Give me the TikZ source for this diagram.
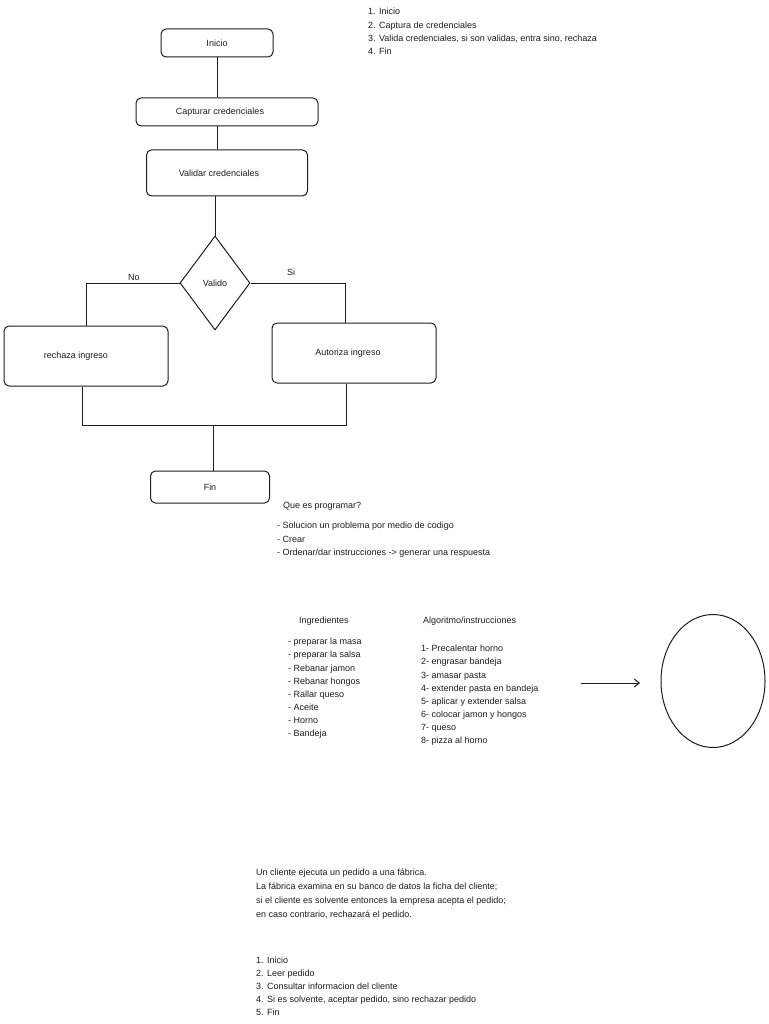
\documentclass[tikz,border=0pt]{standalone}
\usepackage{fontspec}
\setmainfont{Liberation Sans}
\usetikzlibrary{shapes.geometric,arrows.meta}
\definecolor{ink}{HTML}{1E1E1E}
\begin{document}
\begin{tikzpicture}[x=1pt,y=-1pt,
  every node/.style={text=ink},
  hand/.style={font=\fontsize{9}{13.3}\selectfont},
  box/.style={draw=ink,line width=1pt,rounded corners=5pt,hand},
  wire/.style={draw=ink,line width=1pt},
  txt/.style={hand,anchor=north west,inner sep=0pt,align=left},
]
\useasboundingbox[fill=white] (0,0) rectangle (768,1024);

% flowchart
\node[box,minimum width=112,minimum height=28] (inicio) at (217,43) {Inicio};
\node[box,minimum width=182,minimum height=28] (capt) at (227,112) {Capturar credenciales\hspace*{14pt}};
\node[box,minimum width=161,minimum height=46] (valid) at (227,173) {\raisebox{-1pt}{Validar credenciales}\hspace*{16pt}};
\node[diamond,draw=ink,line width=1pt,hand,minimum width=70,minimum height=94,inner sep=0pt] (dia) at (215,283) {Valido};
\node[box,minimum width=164,minimum height=60] (rech) at (86,356) {\raisebox{-6pt}{rechaza ingreso}\hspace*{20pt}};
\node[box,minimum width=164,minimum height=60] (aut) at (354,353) {\raisebox{-5pt}{Autoriza ingreso}\hspace*{12pt}};
\node[box,minimum width=119,minimum height=32] (fin) at (210,487) {Fin};
\coordinate (join) at (213,425);

\draw[wire] (inicio.south) -- (inicio.south |- capt.north);
\draw[wire] ([xshift=-10pt]capt.south) -- ([xshift=-10pt]capt.south |- valid.north);
\draw[wire] (dia.north |- valid.south) -- (dia.north);
\draw[wire] (dia.west) -| (rech.north);
\draw[wire] (dia.east) -| ([xshift=-9pt]aut.north);
\draw[wire] ([xshift=-4pt]rech.south) -- ([xshift=-4pt]rech.south |- join) -- ([xshift=-8pt]aut.south |- join) -- ([xshift=-8pt]aut.south);
\draw[wire] (join) -- (join |- fin.north);

\node[hand] (no) at (134,277) {No};
\node[hand] (si) at (291,272) {Si};

% top-right list
\node[txt] (steps) at (368,8) {1. Inicio\\2. Captura de credenciales\\3. Valida credenciales, si son validas, entra sino, rechaza\\4. Fin};

% que es programar
\node[txt] (que) at (283,502) {Que es programar?};
\node[txt] (def) at (277,522) {- Solucion un problema por medio de codigo\\- Crear\\- Ordenar/dar instrucciones -> generar una respuesta};

% pizza
\node[txt] (ingt) at (299,617) {Ingredientes};
\node[txt,font=\fontsize{9}{13.15}\selectfont] (ing) at (288,638) {- preparar la masa\\- preparar la salsa\\- Rebanar jamon\\- Rebanar hongos\\- Rallar queso\\- Aceite\\- Horno\\- Bandeja};
\node[txt] (algt) at (423,617) {Algoritmo/instrucciones};
\node[txt,font=\fontsize{9}{13.15}\selectfont] (alg) at (421,645) {1- Precalentar horno\\2- engrasar bandeja\\3- amasar pasta\\4- extender pasta en bandeja\\5- aplicar y extender salsa\\6- colocar jamon y hongos\\7- queso\\8- pizza al horno};

\node[ellipse,draw=ink,line width=1pt,minimum width=104,minimum height=133,inner sep=0pt] (egg) at (713,681) {};
\coordinate (arrs) at (581,683);
\coordinate (arre) at (640,683);
\draw[wire,-{Straight Barb[length=5pt,width=8pt]}] (arrs) -- (arre);

% bottom texts
\node[txt,font=\fontsize{9}{14}\selectfont] (para) at (256,869) {Un cliente ejecuta un pedido a una fábrica.\\La fábrica examina en su banco de datos la ficha del cliente;\\si el cliente es solvente entonces la empresa acepta el pedido;\\en caso contrario, rechazará el pedido.};
\node[txt,font=\fontsize{9}{13}\selectfont] (pasos) at (256,957) {1. Inicio\\2. Leer pedido\\3. Consultar informacion del cliente\\4. Si es solvente, aceptar pedido, sino rechazar pedido\\5. Fin};
\end{tikzpicture}
\end{document}
